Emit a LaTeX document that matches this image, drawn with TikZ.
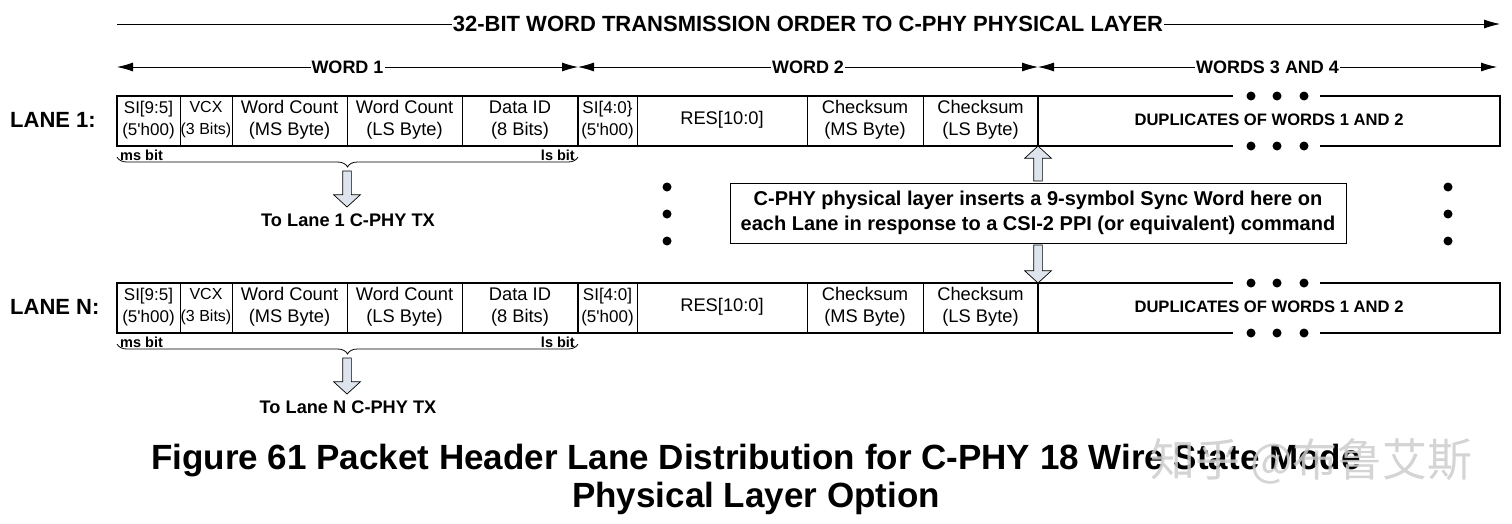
\documentclass[tikz,border=0pt]{standalone}
\usepackage{fontspec}
\setmainfont{Liberation Sans}
\newfontfamily\cjkfont{Noto Sans CJK SC}
\usetikzlibrary{arrows.meta,decorations.pathreplacing,shapes.arrows}
\definecolor{arrowfill}{RGB}{222,228,238}

\begin{document}
\begin{tikzpicture}[x=1pt,y=-1pt,
    cell/.style={inner sep=0pt,align=center,font=\fontsize{18.3}{22}\selectfont},
    sicell/.style={cell,font=\fontsize{17}{22}\selectfont},
    smallcell/.style={cell,font=\fontsize{16}{22}\selectfont},
    span/.style={{Latex[length=16pt,width=9pt]}-{Latex[length=16pt,width=9pt]},line width=0.8pt},
    spanlabel/.style={fill=white,inner sep=1pt,font=\bfseries\fontsize{18}{20}\selectfont},
    lanebox/.style={line width=2.6pt},
    divider/.style={line width=0.8pt},
    hollow/.style={single arrow,draw,line width=0.7pt,fill=arrowfill,inner sep=4pt,
        single arrow head extend=9pt,single arrow tip angle=95},
    bitlabel/.style={font=\bfseries\fontsize{14.5}{15}\selectfont,inner sep=0pt},
    dot/.style={circle,fill=black,inner sep=0pt,minimum size=9pt}]

    \useasboundingbox (0,0) rectangle (1512,523);

    % transmission order
    \coordinate (orderL) at (117,24);
    \coordinate (orderR) at (1500,24);
    \draw[-{Latex[length=16pt,width=9pt]},line width=0.8pt] (orderL) -- (orderR);
    \node[spanlabel,font=\bfseries\fontsize{22}{24}\selectfont] (order) at (808,24)
        {32-BIT WORD TRANSMISSION ORDER TO C-PHY PHYSICAL LAYER};

    % word spans
    \foreach \a/\b/\name/\txt in {117/578/w1/WORD 1, 578/1038/w2/WORD 2, 1038/1497/w3/WORDS 3 AND 4}{
        \coordinate (\name-l) at (\a,67);
        \coordinate (\name-r) at (\b,67);
        \draw[span] (\name-l) -- (\name-r);
        \node[spanlabel] (\name) at ({(\a+\b)/2},67) {\txt};
    }

    % lanes
    \foreach \lane/\ytop/\si in {1/96/{SI[4:0\}}, N/283/{SI[4:0]}}{
        \node[font=\bfseries\fontsize{22}{24}\selectfont,anchor=west,inner sep=0pt] (lane\lane) at (10,\ytop+24) {LANE \lane:};
        \foreach \a/\b/\sty/\txt [count=\cnum] in {
                117/180/sicell/{SI[9:5]\\(5\textquotesingle h00)},
                180/232/smallcell/{VCX\\(3 Bits)},
                232/347/cell/{Word Count\\(MS Byte)},
                347/462/cell/{Word Count\\(LS Byte)},
                462/578/cell/{Data ID\\(8 Bits)},
                578/637/sicell/{\si\\(5\textquotesingle h00)},
                637/807/cell/{RES[10:0]},
                807/923/cell/{Checksum\\(MS Byte)},
                923/1038/cell/{Checksum\\(LS Byte)}}{
            \node[\sty] (l\lane c\cnum) at ({(\a+\b)/2},\ytop+24) {\txt};
            \draw[divider] (\b,\ytop) -- (\b,\ytop+50);
        }
        \draw[lanebox] (117,\ytop) rectangle (1038,\ytop+50);
        \draw[lanebox] (578,\ytop) -- (578,\ytop+50);
        \draw[lanebox] (1038,\ytop) -- (1233,\ytop) (1320,\ytop) -- (1500,\ytop) -- (1500,\ytop+50)
            -- (1320,\ytop+50) (1233,\ytop+50) -- (1038,\ytop+50);
        \foreach \x in {1251,1277,1304}{
            \node[dot] (top\lane-\x) at (\x,\ytop) {};
            \node[dot] (bot\lane-\x) at (\x,\ytop+50) {};
        }
        \node[font=\bfseries\fontsize{16.6}{18}\selectfont] (dup\lane) at (1269,\ytop+24) {DUPLICATES OF WORDS 1 AND 2};

        % bit order brace
        \draw[decorate,decoration={brace,mirror,amplitude=10pt},line width=0.8pt] (117,\ytop+61) -- (578,\ytop+61);
        \node[bitlabel,anchor=west] (ms\lane) at (120,\ytop+59) {ms bit};
        \node[bitlabel,anchor=east] (ls\lane) at (575,\ytop+59) {ls bit};
        \node[hollow,shape border rotate=270,minimum height=36pt] (down\lane) at (347,\ytop+91) {};
        \node[font=\bfseries\fontsize{18.2}{20}\selectfont] (tx\lane) at (348,\ytop+124) {To Lane \lane\ C-PHY TX};
    }

    % lanes in between
    \foreach \y in {187,214,241}{
        \node[dot] (midl\y) at (667,\y) {};
        \node[dot] (midr\y) at (1448,\y) {};
    }

    % sync word note
    \node[draw,line width=0.7pt,minimum width=616pt,minimum height=60pt,align=center,
        font=\bfseries\fontsize{20}{25}\selectfont] (sync) at (1038,213)
        {C-PHY physical layer inserts a 9-symbol Sync Word here on\\each Lane in response to a CSI-2 PPI (or equivalent) command};
    \node[hollow,shape border rotate=90,minimum height=35pt] (upsync) at (1038,165.5) {};
    \node[hollow,shape border rotate=270,minimum height=38pt] (downsync) at (1038,262) {};

    % caption
    \node[font=\bfseries\fontsize{35}{38}\selectfont,align=center] (caption) at (756,479)
        {Figure 61 Packet Header Lane Distribution for C-PHY 18 Wire State Mode\\Physical Layer Option};
    \node[text=gray!40,opacity=0.85,font=\cjkfont\fontsize{45}{47}\selectfont,anchor=west,inner sep=0pt] (mark) at (1150,461) {知乎 @布鲁艾斯};
\end{tikzpicture}
\end{document}
